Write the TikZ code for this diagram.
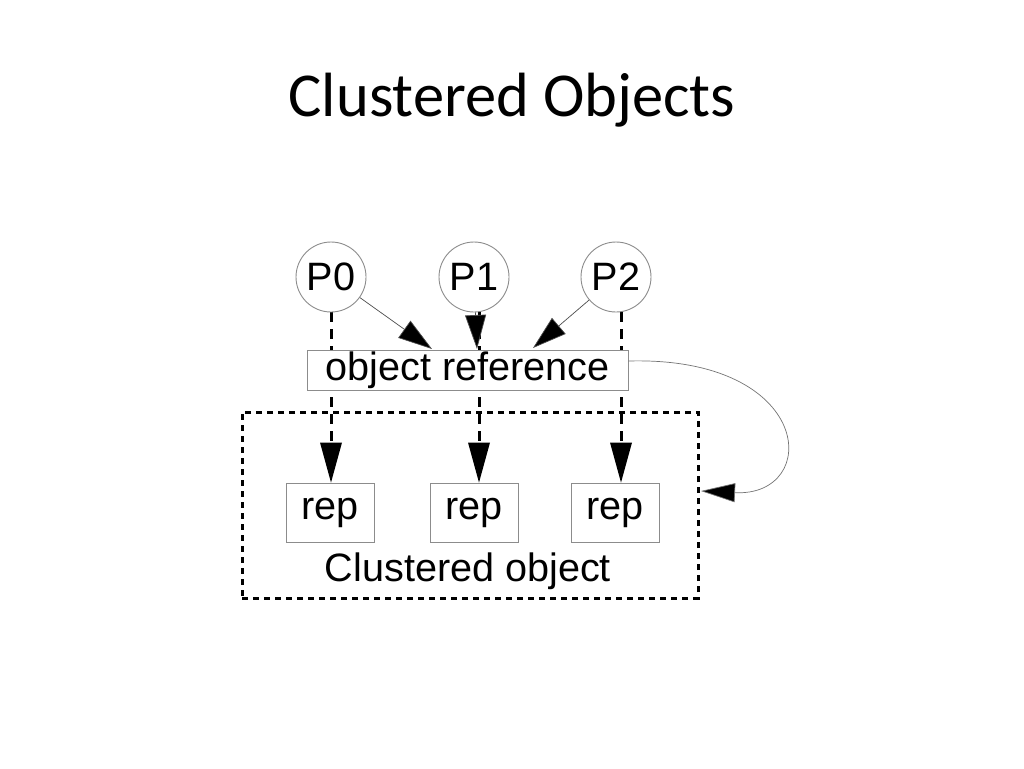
\documentclass[tikz,border=0pt]{standalone}
\usepackage{fontspec}
\setmainfont{Liberation Sans}
\newfontfamily\titlefont{Carlito}
\usetikzlibrary{arrows.meta}
\pgfdeclarelayer{bg}
\pgfsetlayers{bg,main}
\begin{document}
\begin{tikzpicture}[x=1pt,y=-1pt,
  proc/.style={circle,draw=black!45,line width=0.9pt,fill=white,minimum size=70pt,inner sep=0pt,font=\fontsize{39.6}{44}\selectfont},
  box/.style={rectangle,draw=black!45,line width=0.9pt,fill=white,inner sep=0pt,font=\fontsize{39.6}{44}\selectfont},
  cluster/.style={rectangle,draw=black,line width=3pt,dash pattern=on 6pt off 5pt,minimum width=456pt,minimum height=186pt,inner sep=0pt},
  thinarrow/.style={line width=0.7pt,draw=black!70,-{Triangle[length=34pt,width=21pt,fill=black]}},
  dasharrow/.style={line width=3pt,dash pattern=on 10pt off 7pt,-{Triangle[length=40pt,width=22pt,line width=0pt]}},
  curvearrow/.style={line width=0.7pt,draw=black!55,-{Triangle[length=34pt,width=19pt,fill=black]}},
  lbl/.style={font=\fontsize{39.6}{44}\selectfont}
]
\useasboundingbox (0,0) rectangle (1024,768);
\node[font=\titlefont\fontsize{62.5}{70}\selectfont] (title) at (512,100) {Clustered Objects};

\node[proc] (P0) at (331,277) {P0};
\node[proc] (P1) at (474,277) {P1};
\node[proc] (P2) at (616,277) {P2};

\node[box,minimum width=321pt,minimum height=40pt] (ref) at (467.5,370) {object reference};

\node[cluster] (cl) at (470,505) {};
\node[box,minimum width=88pt,minimum height=59pt] (r0) at (330,512.5) {rep};
\node[box,minimum width=88pt,minimum height=59pt] (r1) at (474,512.5) {rep};
\node[box,minimum width=88pt,minimum height=59pt] (r2) at (615,512.5) {rep};
\node[lbl] (cltext) at (468,571) {Clustered object};

\coordinate (t0) at (432,349);
\coordinate (t1) at (477,349);
\coordinate (t2) at (533,348);
\coordinate (ctip) at (701,491);

\begin{pgfonlayer}{bg}
  \draw[dasharrow] (P0.south) -- ([xshift=1pt]r0.north);
  \draw[dasharrow] ([xshift=5pt]P1.south) -- ([xshift=5pt]r1.north);
  \draw[dasharrow] ([xshift=5pt]P2.south) -- ([xshift=6pt]r2.north);
\end{pgfonlayer}
\draw[thinarrow] (P0) -- (t0);
\draw[thinarrow] (P1) -- (t1);
\draw[thinarrow] (P2) -- (t2);
\draw[curvearrow] ([yshift=9pt]ref.east) .. controls (815,356) and (822,497) .. (ctip);
\end{tikzpicture}
\end{document}
